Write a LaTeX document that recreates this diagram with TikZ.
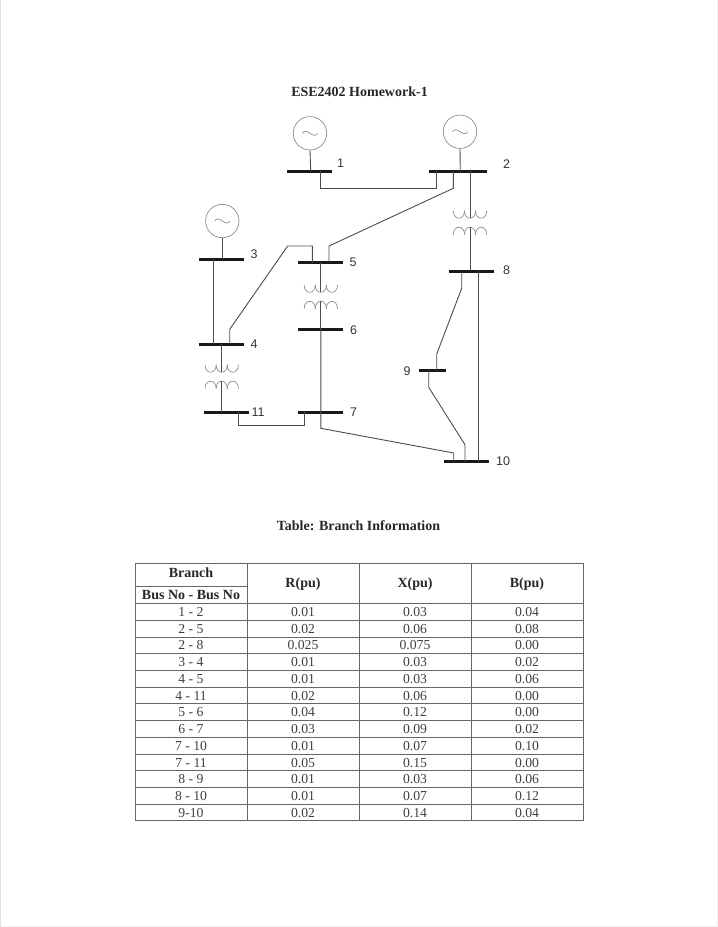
\documentclass[tikz,border=0pt]{standalone}
\usepackage{fontspec}
\setmainfont{Liberation Serif}
\newfontfamily\labelfont{Liberation Sans}
\tikzset{
  busbar/.style={rectangle, fill=black!90, inner sep=0pt, minimum height=3pt},
  wire/.style={draw=black!70, line width=0.9pt},
  coil/.style={draw=black!45, line width=0.7pt},
  gen/.style={circle, draw=black!45, line width=0.7pt, minimum size=33.4pt, inner sep=0pt},
  buslabel/.style={font=\labelfont\fontsize{12.5}{12.5}\selectfont, text=black!80, inner sep=0pt},
  headtext/.style={font=\bfseries\fontsize{14}{14}\selectfont, text=black!85, inner sep=0pt},
  celltext/.style={font=\fontsize{13.7}{13.7}\selectfont, text=black!75, inner sep=0pt},
  grid/.style={draw=black!60, line width=0.8pt},
  xfmr/.pic={
    \foreach \k in {-16.7,-5.6,5.5} {
      \draw[coil] (\k,-12) .. controls +(0,10) and +(0,10) .. +(11.2,0);
      \draw[coil] (\k,12) .. controls +(0,-10) and +(0,-10) .. +(11.2,0);
    }
    \coordinate (-top) at (0,-4.5);
    \coordinate (-bot) at (0,4.5);
  }
}

\begin{document}
\begin{tikzpicture}[x=1pt, y=-1pt]
    \useasboundingbox (0,0) rectangle (718,927);
    \draw[black!6, line width=1pt] (717.5,0) -- (717.5,926.5) -- (0,926.5);
    \draw[black!12, line width=1pt] (0.8,0) -- (0.8,927);

    \node[headtext] (title) at (359.5,91.5) {ESE2402 Homework-1};

    % Generadores
    \node[gen] (g1) at (310,133.3) {};
    \node[gen] (g2) at (460,131.7) {};
    \node[gen] (g3) at (222.3,221) {};
    \foreach \n in {1,2,3} {
        \draw[coil] ([xshift=-7.5pt]g\n.center) .. controls +(4,-7) and +(-4,7) .. ([xshift=7.5pt]g\n.center);
    }

    % Barras
    \node[busbar, minimum width=45pt] (b1) at (309.5,171.3) {};
    \node[busbar, minimum width=58pt] (b2) at (458,171.3) {};
    \node[busbar, minimum width=45pt] (b3) at (221.5,259.3) {};
    \node[busbar, minimum width=45pt] (b4) at (221.5,344) {};
    \node[busbar, minimum width=45pt] (b5) at (320.8,262.7) {};
    \node[busbar, minimum width=45pt] (b6) at (320.8,329) {};
    \node[busbar, minimum width=45pt] (b7) at (320.8,412) {};
    \node[busbar, minimum width=45pt] (b8) at (471.5,271) {};
    \node[busbar, minimum width=27pt] (b9) at (432.7,370.3) {};
    \node[busbar, minimum width=45pt] (b10) at (466.7,461.7) {};
    \node[busbar, minimum width=45pt] (b11) at (226.3,412) {};

    \node[buslabel] (lab1) at (340.5,163.5) {1};
    \node[buslabel] (lab2) at (506.5,164.5) {2};
    \node[buslabel] (lab3) at (254,254.5) {3};
    \node[buslabel] (lab4) at (254,344.5) {4};
    \node[buslabel] (lab5) at (353,262.5) {5};
    \node[buslabel] (lab6) at (353.5,330) {6};
    \node[buslabel] (lab7) at (353.5,412) {7};
    \node[buslabel] (lab8) at (506.5,270) {8};
    \node[buslabel] (lab9) at (407,371) {9};
    \node[buslabel] (lab10) at (503,461.5) {10};
    \node[buslabel] (lab11) at (258,412) {11};

    % Transformadores
    \pic (t28) at (470,222.7) {xfmr};
    \pic (t56) at (320.8,296.8) {xfmr};
    \pic (t411) at (221.7,376.7) {xfmr};

    % Generadores a barras
    \draw[wire] (g1.south) -- ([xshift=1.2pt]b1.center);
    \draw[wire] (g2.south) -- ([xshift=2.3pt]b2.center);
    \draw[wire] (g3.south) -- ([xshift=0.8pt]b3.center);

    % Lineas
    \draw[wire] ([xshift=11.2pt]b1.center) -- ++(0,17) -| ([xshift=-21.3pt]b2.center);
    \draw[wire] ([xshift=-4.7pt]b2.center) -- ++(0,17) -- (329,246) -- ([xshift=8.2pt]b5.center);
    \draw[wire] (b2.center -| t28-top) -- (t28-top);
    \draw[wire] (t28-bot) -- (b8.center -| t28-bot);
    \draw[wire] ([xshift=-8.5pt]b3.center) -- ([xshift=-8.5pt]b4.center);
    \draw[wire] ([xshift=8.2pt]b4.center) -- ++(0,-14.7) -- (287.7,246) -| ([xshift=-8.5pt]b5.center);
    \draw[wire] (b4.center -| t411-top) -- (t411-top);
    \draw[wire] (t411-bot) -- (b11.center -| t411-bot);
    \draw[wire] (b5.center -| t56-top) -- (t56-top);
    \draw[wire] (t56-bot) -- (b6.center -| t56-bot);
    \draw[wire] (b6.center) -- (b7.center) -- ++(0,16.3) -- (453.7,453) -- ([xshift=-13pt]b10.center);
    \draw[wire] ([xshift=12pt]b11.center) -- ++(0,13.3) -| ([xshift=-16.1pt]b7.center);
    \draw[wire] ([xshift=-9.8pt]b8.center) -- ++(0,17.3) -- (436.7,354) -- ([xshift=4pt]b9.center);
    \draw[wire] ([xshift=6.8pt]b8.center) -- ([xshift=11.6pt]b10.center);
    \draw[wire] ([xshift=-4pt]b9.center) -- ++(0,17) -- (465,444.7) -- ([xshift=-1.7pt]b10.center);

    \node[headtext] (tabtitle) at (358.5,525.5) {Table: Branch Information};

    % Tabla
    \draw[grid] (135,563.5) rectangle (583,820.5);
    \foreach \xx in {247,359,471} {
        \draw[grid] (\xx,563.5) -- (\xx,820.5);
    }
    \draw[grid] (135,586.5) -- (247,586.5);
    \foreach \i in {0,...,12} {
        \draw[grid] (135,603.5+\i*16.73) -- (583,603.5+\i*16.73);
    }
    \node[headtext] (hbranch) at (191,573) {Branch};
    \node[headtext] (hbus) at (191,595) {Bus No - Bus No};
    \node[headtext] (hr) at (303,584) {R(pu)};
    \node[headtext] (hx) at (415,584) {X(pu)};
    \node[headtext] (hb) at (527,584) {B(pu)};
    \foreach \i/\br/\rr/\xr/\bb in {
        0/1 - 2/0.01/0.03/0.04, 1/2 - 5/0.02/0.06/0.08, 2/2 - 8/0.025/0.075/0.00,
        3/3 - 4/0.01/0.03/0.02, 4/4 - 5/0.01/0.03/0.06, 5/4 - 11/0.02/0.06/0.00,
        6/5 - 6/0.04/0.12/0.00, 7/6 - 7/0.03/0.09/0.02, 8/7 - 10/0.01/0.07/0.10,
        9/7 - 11/0.05/0.15/0.00, 10/8 - 9/0.01/0.03/0.06, 11/8 - 10/0.01/0.07/0.12,
        12/9-10/0.02/0.14/0.04
    } {
        \node[celltext] (br\i) at (191,612+\i*16.73) {\br};
        \node[celltext] (rr\i) at (303,612+\i*16.73) {\rr};
        \node[celltext] (xr\i) at (415,612+\i*16.73) {\xr};
        \node[celltext] (bb\i) at (527,612+\i*16.73) {\bb};
    }
\end{tikzpicture}
\end{document}
